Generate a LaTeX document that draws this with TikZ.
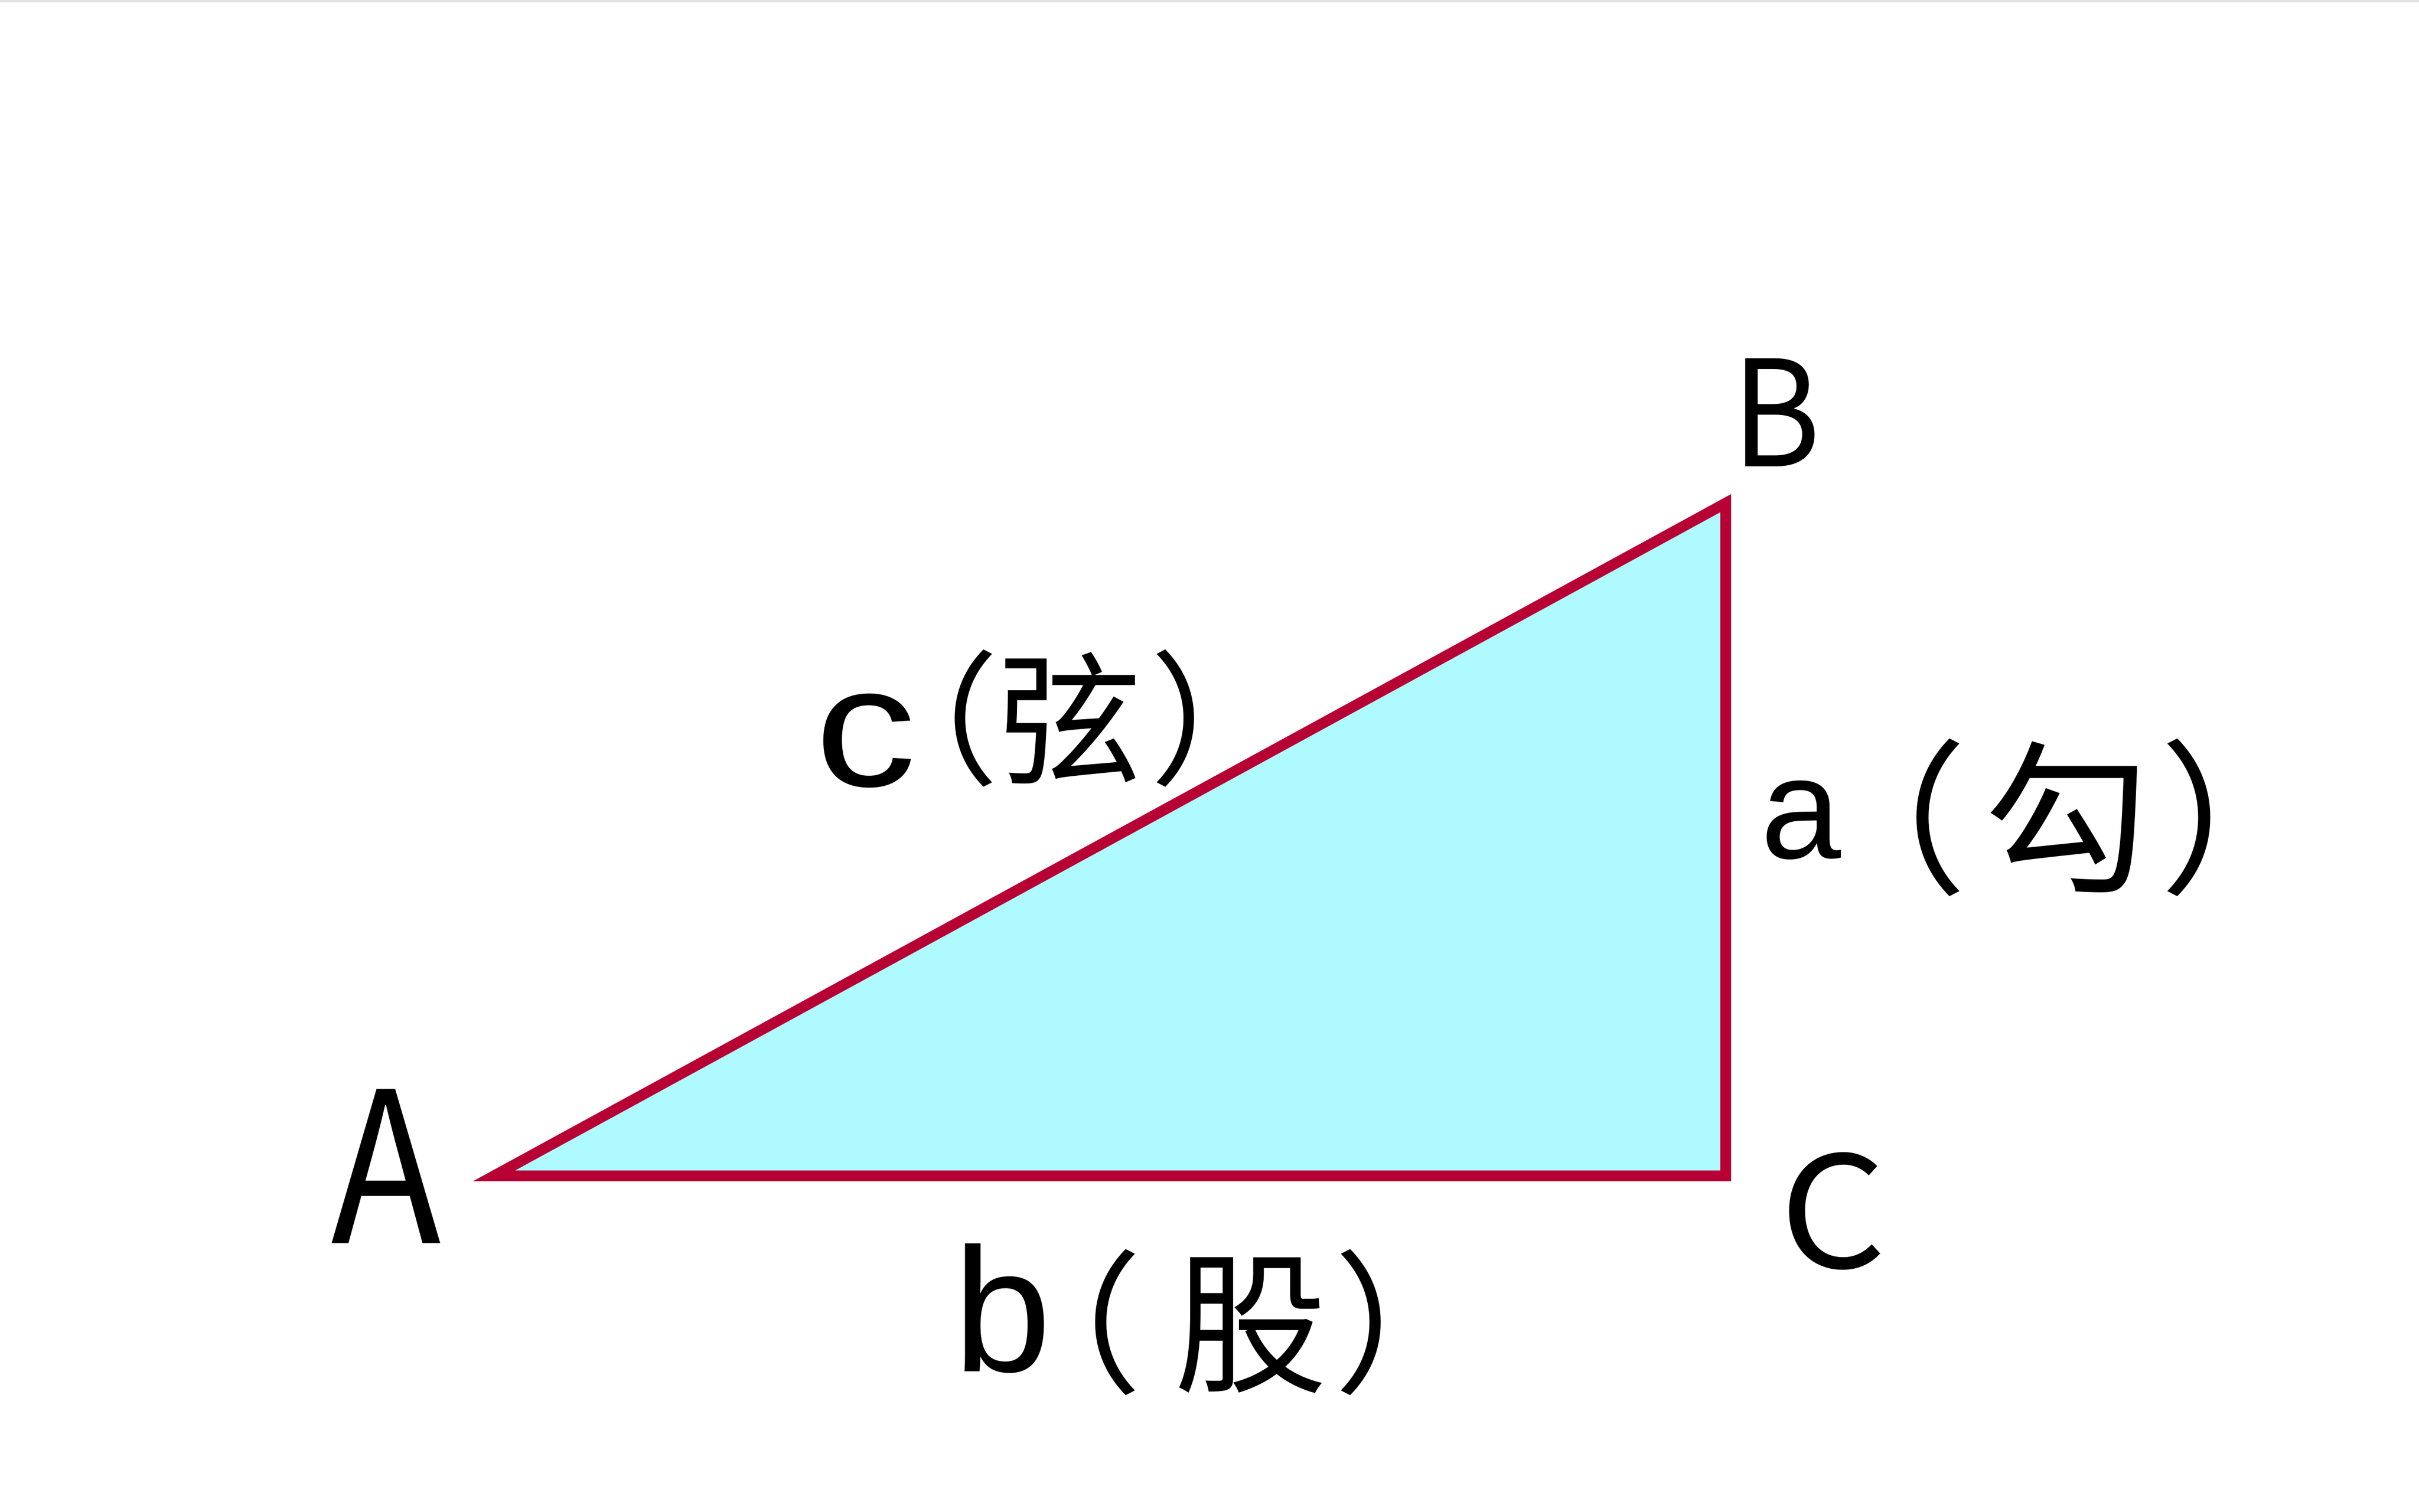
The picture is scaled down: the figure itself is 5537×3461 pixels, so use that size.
\documentclass[tikz,border=0pt]{standalone}
\usepackage{fontspec}
\usepackage{graphicx}
\setmainfont{Liberation Sans}
\newfontfamily\cjk{Noto Sans CJK SC}
\usetikzlibrary{positioning}

\definecolor{edgered}{RGB}{183,0,52}
\definecolor{facecyan}{RGB}{174,250,255}
\definecolor{rulegray}{RGB}{226,226,226}

\newcommand{\vtxfont}{\cjk\fontsize{96pt}{100pt}\selectfont}
\newcommand{\hanfont}[1]{\cjk\fontsize{#1}{#1}\selectfont}

\begin{document}
\begin{tikzpicture}[x=0.1mm, y=-0.1mm
        , every node/.style={inner sep=0pt, outer sep=0pt}
        , side/.style={draw=edgered, fill=facecyan, line width=2.45mm, line join=miter}
        , vlabel/.style={font=\vtxfont}
        , slabel/.style={anchor=base west}
        ]
        \useasboundingbox (0,0) rectangle (5537,3461);
        \fill[white] (0,0) rectangle (5537,3461);
        \fill[rulegray] (0,0) rectangle (5537,6);

        \coordinate (A) at (1131,2692);
        \coordinate (B) at (3950,1152);
        \coordinate (C) at (3950,2692);
        \draw[side] (A) -- (C) -- (B) -- cycle;

        \node[vlabel] (lA) at (884,2670) {\scalebox{0.86}[1]{\fontsize{137pt}{140pt}\selectfont A}};
        \node[vlabel] (lB) at (4066,944) {\scalebox{0.92}[1]{B}};
        \node[vlabel] (lC) at (4196,2773) {\scalebox{1.08}[1]{\fontsize{101pt}{104pt}\selectfont C}};

        % c (hypotenuse), a and b (legs)
        \node[slabel] (hyp) at (1865,1800) {\scalebox{1.18}[1]{\fontsize{112pt}{114pt}\selectfont c}\kern-40.2pt
            \raisebox{8.5pt}{\hanfont{94pt}（\kern-1pt 弦\kern5.7pt ）}};
        \node[slabel] (leg) at (4030,1965) {{\fontsize{94pt}{96pt}\selectfont a}\kern-25.7pt
            \raisebox{-14.5pt}{\hanfont{108pt}（\kern11pt 勾\kern6.5pt ）}};
        \node[slabel] (base) at (2182,3140) {{\fontsize{115pt}{118pt}\selectfont b}\kern-41pt
            \raisebox{-6pt}{\hanfont{100pt}（\kern21pt 股\kern4pt ）}};

    \end{tikzpicture}
\end{document}
